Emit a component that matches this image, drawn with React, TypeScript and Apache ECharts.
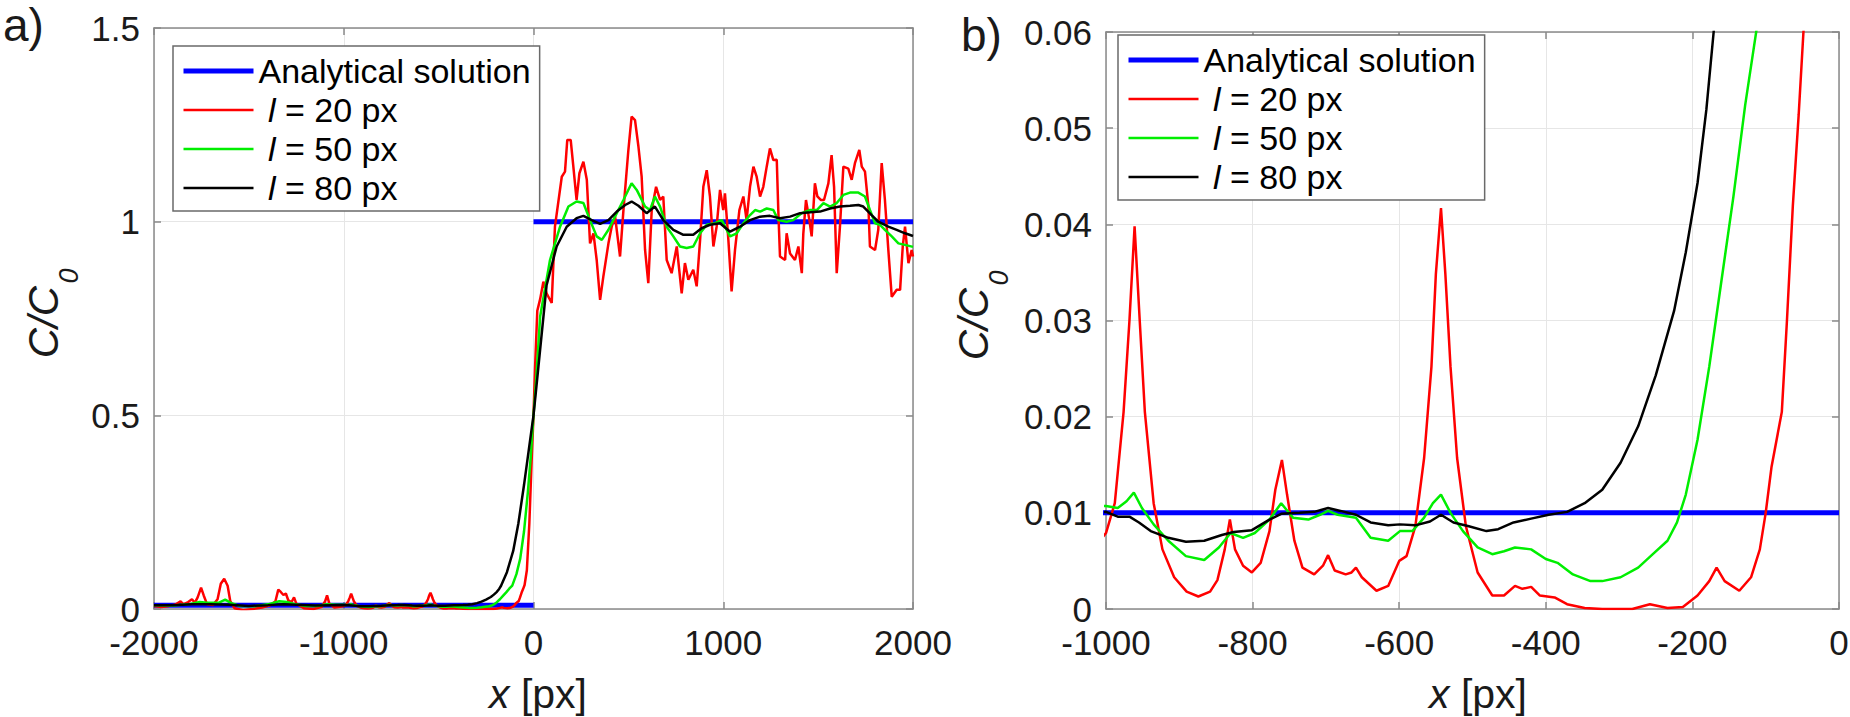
import React, { useEffect, useRef } from 'react';
import * as echarts from 'echarts';

const FONT = '"Liberation Sans", Arial, Helvetica, sans-serif';

// ---------- axis ranges / ticks ----------
const xRangeA = [-2000, 2000];
const xStepA = 1000;
const yRangeA = [0, 1.5];
const yStepA = 0.5;
const xRangeB = [-1000, 0];
const xStepB = 200;
const yRangeB = [0, 0.06];
const yStepB = 0.01;

// ---------- series names ----------
const seriesNames = ['Analytical solution', 'l = 20 px', 'l = 50 px', 'l = 80 px'];

// ---------- data (x [px], C/C0) ----------
const analytical: (number | string)[][] = [
  [-2000, 0.01], [0, 0.01], [0, '-'], [0, 1], [2000, 1],
];

const red20: number[][] = [
  [-2000, 0.008], [-1960, 0.005], [-1920, 0.008], [-1885, 0.012], [-1860, 0.02], [-1845, 0.012],
  [-1820, 0.018], [-1800, 0.025], [-1785, 0.016], [-1770, 0.03], [-1752, 0.055], [-1738, 0.035],
  [-1720, 0.012], [-1690, 0.01], [-1665, 0.025], [-1648, 0.065], [-1630, 0.078], [-1612, 0.06],
  [-1598, 0.02], [-1575, 0.002], [-1530, -0.003], [-1480, 0.0], [-1430, 0.004], [-1385, 0.01],
  [-1360, 0.02], [-1345, 0.05], [-1332, 0.044], [-1318, 0.036], [-1305, 0.04], [-1292, 0.022],
  [-1275, 0.018], [-1262, 0.03], [-1250, 0.014], [-1210, 0.002], [-1160, 0.0], [-1115, 0.006],
  [-1098, 0.02], [-1088, 0.035], [-1076, 0.014], [-1050, 0.004], [-1020, 0.006],
  [-1000, 0.0079], [-988, 0.011], [-976, 0.0205], [-968, 0.03], [-961, 0.0398], [-954, 0.03],
  [-947, 0.0205], [-935, 0.011], [-923, 0.0062], [-907, 0.0033], [-890, 0.0018], [-874, 0.0013],
  [-858, 0.0018], [-848, 0.003], [-838, 0.0062], [-831, 0.0093], [-824, 0.0062], [-813, 0.0045],
  [-801, 0.0038], [-789, 0.0048], [-777, 0.0081], [-769, 0.0124], [-760, 0.0155], [-753, 0.0119],
  [-743, 0.0071], [-732, 0.0043], [-716, 0.0036], [-704, 0.0045], [-697, 0.0056], [-688, 0.004],
  [-673, 0.0036], [-665, 0.0038], [-659, 0.0043], [-651, 0.0033], [-631, 0.0019], [-615, 0.0024],
  [-600, 0.005], [-590, 0.0055], [-578, 0.0086], [-566, 0.0157], [-556, 0.0252], [-550, 0.0348],
  [-543, 0.0417], [-537, 0.0348], [-530, 0.0252], [-521, 0.0157], [-509, 0.0086], [-493, 0.0038],
  [-473, 0.0014], [-457, 0.0014], [-442, 0.0024], [-432, 0.0021], [-420, 0.0023], [-408, 0.0014],
  [-388, 0.0012], [-371, 0.0005], [-347, 0.0001], [-323, 0], [-282, 0], [-258, 0.0005],
  [-234, 0.0001], [-213, 0.0002], [-193, 0.0014], [-177, 0.0029], [-167, 0.0043], [-156, 0.0029],
  [-136, 0.0019], [-120, 0.0033], [-108, 0.0062], [-100, 0.01], [-92, 0.0148], [-78, 0.0205],
  [-71, 0.03], [-63, 0.0419], [-55, 0.0514], [-47, 0.062],
  [-35, 0.1], [-22, 0.22], [-10, 0.38], [0, 0.5], [8, 0.62], [20, 0.77], [35, 0.8],
  [52, 0.845], [69, 0.815], [96, 0.79], [113, 0.987], [149, 1.116], [166, 1.129], [178, 1.211],
  [196, 1.211], [210, 1.142], [227, 1.056], [242, 1.125], [263, 1.155], [281, 1.108], [298, 0.944],
  [316, 0.97], [333, 0.901], [351, 0.798], [368, 0.858], [395, 0.944], [412, 0.987], [430, 1.013],
  [456, 0.91], [474, 1.03], [500, 1.185], [517, 1.271], [535, 1.262], [553, 1.194], [570, 1.116],
  [588, 0.927], [605, 0.841], [623, 1.03], [646, 1.09], [667, 1.056], [684, 1.065], [702, 0.901],
  [728, 0.867], [755, 0.936], [781, 0.815], [798, 0.893], [816, 0.85], [842, 0.876], [860, 0.833],
  [878, 0.953], [895, 1.09], [913, 1.133], [930, 1.065], [948, 0.936], [965, 0.987], [983, 1.082],
  [1000, 1.03], [1009, 1.073], [1027, 0.953], [1044, 0.82], [1062, 0.927], [1085, 1.03],
  [1106, 1.065], [1123, 1.004], [1141, 1.09], [1159, 1.142], [1176, 1.116], [1194, 1.065],
  [1211, 1.09], [1229, 1.142], [1246, 1.189], [1264, 1.159], [1282, 1.16], [1290, 1.03],
  [1299, 0.91], [1326, 0.901], [1334, 0.97], [1352, 0.918], [1378, 0.901], [1396, 0.936],
  [1414, 0.867], [1422, 0.97], [1436, 1.056], [1454, 1.004], [1466, 0.962], [1483, 1.099],
  [1496, 1.065], [1514, 1.056], [1531, 1.056], [1554, 1.099], [1571, 1.172], [1584, 1.09],
  [1598, 0.867], [1615, 0.987], [1633, 1.142], [1659, 1.137], [1677, 1.108], [1694, 1.151],
  [1717, 1.185], [1730, 1.142], [1747, 1.129], [1765, 1.039], [1773, 0.936], [1800, 0.927],
  [1817, 0.979], [1835, 1.151], [1852, 1.056], [1870, 0.927], [1888, 0.806], [1914, 0.824],
  [1932, 0.824], [1946, 0.936], [1958, 0.987], [1976, 0.893], [1993, 0.927], [2000, 0.91],
];

const green50: number[][] = [
  [-2000, 0.01], [-1900, 0.009], [-1820, 0.012], [-1760, 0.018], [-1720, 0.016], [-1660, 0.016],
  [-1625, 0.024], [-1595, 0.016], [-1550, 0.008], [-1470, 0.007], [-1400, 0.012], [-1340, 0.02],
  [-1300, 0.018], [-1260, 0.013], [-1200, 0.008], [-1140, 0.008], [-1090, 0.012], [-1040, 0.011],
  [-1000, 0.0107], [-984, 0.0105], [-972, 0.0112], [-962, 0.0121], [-951, 0.0105], [-935, 0.0088],
  [-915, 0.0071], [-891, 0.0055], [-866, 0.0051], [-846, 0.0064], [-830, 0.0079], [-813, 0.0074],
  [-797, 0.0079], [-777, 0.0093], [-761, 0.011], [-745, 0.0095], [-724, 0.0093], [-708, 0.0098],
  [-697, 0.0102], [-684, 0.0098], [-659, 0.0095], [-639, 0.0074], [-615, 0.0071], [-599, 0.0081],
  [-582, 0.0081], [-566, 0.0095], [-554, 0.011], [-543, 0.0119], [-530, 0.01], [-513, 0.0081],
  [-493, 0.0064], [-473, 0.0057], [-457, 0.006], [-442, 0.0064], [-420, 0.0062], [-400, 0.0052],
  [-384, 0.0048], [-363, 0.0036], [-339, 0.0029], [-323, 0.0029], [-298, 0.0033], [-274, 0.0043],
  [-254, 0.0057], [-234, 0.0071], [-221, 0.009], [-209, 0.0119], [-193, 0.0176], [-177, 0.0252],
  [-161, 0.0338], [-144, 0.0429], [-128, 0.0524], [-112, 0.0605],
  [-90, 0.09], [-70, 0.13], [-50, 0.2], [-30, 0.3], [-15, 0.39], [0, 0.5], [15, 0.6], [35, 0.755],
  [87, 0.901], [140, 0.987], [184, 1.039], [227, 1.052], [263, 1.048], [298, 1.004], [333, 0.962],
  [360, 0.953], [395, 0.979], [439, 1.022], [474, 1.056], [517, 1.099], [544, 1.082], [588, 1.039],
  [614, 1.03], [640, 1.065], [667, 1.039], [702, 0.987], [737, 0.962], [772, 0.936], [807, 0.932],
  [842, 0.936], [878, 0.97], [913, 0.992], [957, 0.996], [992, 1.004], [1036, 0.962], [1071, 0.97],
  [1106, 0.996], [1141, 1.017], [1168, 1.03], [1194, 1.026], [1229, 1.034], [1264, 1.03],
  [1290, 1.004], [1334, 1.0], [1369, 1.004], [1414, 1.022], [1458, 1.03], [1493, 1.03],
  [1528, 1.048], [1563, 1.039], [1598, 1.048], [1633, 1.069], [1668, 1.075], [1712, 1.075],
  [1747, 1.065], [1773, 1.03], [1800, 0.996], [1826, 0.992], [1852, 0.979], [1888, 0.962],
  [1923, 0.944], [1958, 0.94], [2000, 0.935],
];

const black80: number[][] = [
  [-2000, 0.01], [-1900, 0.01], [-1800, 0.012], [-1700, 0.012], [-1600, 0.011], [-1500, 0.008],
  [-1400, 0.01], [-1320, 0.012], [-1250, 0.011], [-1150, 0.009], [-1060, 0.01],
  [-1000, 0.0101], [-984, 0.0096], [-968, 0.0096], [-955, 0.009], [-939, 0.0081], [-915, 0.0074],
  [-891, 0.007], [-866, 0.0071], [-842, 0.0077], [-826, 0.008], [-801, 0.0082], [-777, 0.0093],
  [-761, 0.0099], [-736, 0.01], [-716, 0.0101], [-697, 0.0105], [-680, 0.0102], [-659, 0.0098],
  [-639, 0.009], [-615, 0.0087], [-599, 0.0088], [-578, 0.0087], [-558, 0.0091], [-543, 0.0098],
  [-526, 0.009], [-505, 0.0086], [-481, 0.0081], [-465, 0.0083], [-444, 0.009], [-420, 0.0094],
  [-396, 0.0098], [-371, 0.0101], [-347, 0.011], [-323, 0.0124], [-298, 0.0152], [-274, 0.019],
  [-250, 0.0243], [-225, 0.031], [-209, 0.0371], [-193, 0.0443], [-181, 0.0519], [-171, 0.06],
  [-140, 0.095], [-107, 0.15], [-80, 0.22], [-50, 0.32], [-25, 0.41], [0, 0.5], [26, 0.626],
  [69, 0.836], [122, 0.936], [175, 0.987], [227, 1.009], [263, 1.015], [307, 1.004], [351, 0.994],
  [395, 1.004], [439, 1.026], [483, 1.043], [517, 1.052], [553, 1.041], [596, 1.022], [640, 1.039],
  [684, 1.004], [737, 0.979], [790, 0.966], [842, 0.966], [886, 0.983], [930, 0.992], [983, 0.996],
  [1036, 0.974], [1088, 0.987], [1141, 1.004], [1194, 1.013], [1246, 1.015], [1299, 1.009],
  [1352, 1.013], [1405, 1.022], [1458, 1.024], [1510, 1.026], [1563, 1.034], [1615, 1.039],
  [1668, 1.041], [1712, 1.043], [1738, 1.039], [1782, 1.017], [1817, 1.0], [1870, 0.987],
  [1914, 0.979], [1958, 0.97], [2000, 0.963],
];

// ---------- styling ----------
const COLORS = ['#0000ff', '#ff0000', '#00ee00', '#000000'];
const WIDTHS = [5, 2.5, 2.5, 2.5];
const AXIS_COLOR = '#8a8a8a';
const GRID_COLOR = '#e6e6e6';
const TEXT_COLOR = '#1a1a1a';

const labelStyle = { color: TEXT_COLOR, fontSize: 35, fontFamily: FONT, lineHeight: 26 };

function makeX(gridIndex: number, range: number[], step: number, pos: 'bottom' | 'top') {
  const main = pos === 'bottom';
  return {
    type: 'value',
    gridIndex,
    position: pos,
    min: range[0],
    max: range[1],
    interval: step,
    axisLine: { show: true, onZero: false, lineStyle: { color: AXIS_COLOR, width: 1.5 } },
    axisTick: { show: true, inside: true, length: 7, lineStyle: { color: AXIS_COLOR, width: 1.5 } },
    axisLabel: main
      ? {
          ...labelStyle,
          margin: 20,
          showMinLabel: true,
          showMaxLabel: true,
          hideOverlap: false,
          formatter: (v: number) => String(v),
        }
      : { show: false },
    splitLine: main ? { show: true, lineStyle: { color: GRID_COLOR, width: 1 } } : { show: false },
  };
}

function makeY(gridIndex: number, range: number[], step: number, pos: 'left' | 'right', fmt: (v: number) => string) {
  const main = pos === 'left';
  return {
    type: 'value',
    gridIndex,
    position: pos,
    min: range[0],
    max: range[1],
    interval: step,
    axisLine: { show: true, onZero: false, lineStyle: { color: AXIS_COLOR, width: 1.5 } },
    axisTick: { show: true, inside: true, length: 7, lineStyle: { color: AXIS_COLOR, width: 1.5 } },
    axisLabel: main
      ? { ...labelStyle, margin: 14, showMinLabel: true, showMaxLabel: true, formatter: fmt }
      : { show: false },
    splitLine: main ? { show: true, lineStyle: { color: GRID_COLOR, width: 1 } } : { show: false },
  };
}

const allData = [analytical, red20, green50, black80];

function makeSeries(axisIndex: number) {
  return allData.map((d, i) => ({
    type: 'line',
    name: seriesNames[i],
    data: d,
    xAxisIndex: axisIndex,
    yAxisIndex: axisIndex,
    showSymbol: false,
    symbol: 'none',
    clip: true,
    silent: true,
    connectNulls: false,
    lineStyle: { color: COLORS[i], width: WIDTHS[i] },
    itemStyle: { color: COLORS[i] },
    z: 2 + i,
  }));
}

function makeLegend(left: number, top: number) {
  return {
    orient: 'vertical',
    left,
    top,
    itemWidth: 70,
    itemHeight: 14,
    itemGap: 3,
    padding: [7, 9, 5, 8],
    backgroundColor: '#ffffff',
    borderColor: '#6a6a6a',
    borderWidth: 1.5,
    borderRadius: 0,
    selectedMode: false,
    data: seriesNames.map((n, i) => ({
      name: n,
      lineStyle: { color: COLORS[i], width: WIDTHS[i] },
      itemStyle: { color: 'rgba(0,0,0,0)', borderWidth: 0, opacity: 0 },
    })),
    formatter: (name: string) => (name.startsWith('l ') ? ' {i|l}' + name.slice(1) : name),
    textStyle: {
      color: '#000',
      fontSize: 34,
      fontFamily: FONT,
      lineHeight: 36,
      rich: {
        i: { fontStyle: 'italic', fontSize: 34, fontFamily: FONT, lineHeight: 36, color: '#000' },
      },
    },
  };
}

function txt(x: number, y: number, text: string, size: number, italic: boolean, rot = 0, rich?: any, align = 'center') {
  return {
    type: 'text',
    x,
    y,
    rotation: rot,
    silent: true,
    style: {
      text,
      fill: TEXT_COLOR,
      fontSize: size,
      fontFamily: FONT,
      fontStyle: italic ? 'italic' : 'normal',
      textAlign: align,
      align,
      textVerticalAlign: 'middle',
      verticalAlign: 'middle',
      rich,
    },
  };
}

const xRich = { i: { fontStyle: 'italic', fontSize: 41, fontFamily: FONT, fill: TEXT_COLOR } };

const option = {
  animation: false,
  backgroundColor: '#ffffff',
  grid: [
    { left: 154, top: 28, width: 759, height: 581, outerBoundsMode: 'none', containLabel: false },
    { left: 1106, top: 32, width: 733, height: 577, outerBoundsMode: 'none', containLabel: false },
  ],
  xAxis: [
    makeX(0, xRangeA, xStepA, 'bottom'),
    makeX(0, xRangeA, xStepA, 'top'),
    makeX(1, xRangeB, xStepB, 'bottom'),
    makeX(1, xRangeB, xStepB, 'top'),
  ],
  yAxis: [
    makeY(0, yRangeA, yStepA, 'left', (v: number) => String(+v.toFixed(1))),
    makeY(0, yRangeA, yStepA, 'right', (v: number) => String(v)),
    makeY(1, yRangeB, yStepB, 'left', (v: number) => (v === 0 ? '0' : v.toFixed(2))),
    makeY(1, yRangeB, yStepB, 'right', (v: number) => String(v)),
  ],
  legend: [makeLegend(173, 46), makeLegend(1118, 35)],
  series: [...makeSeries(0), ...makeSeries(2)],
  graphic: [
    txt(3, 25, 'a)', 46, false, 0, undefined, 'left'),
    txt(961, 35, 'b)', 46, false, 0, undefined, 'left'),
    txt(43, 322, 'C/C', 42, true, Math.PI / 2),
    txt(69, 276, '0', 27, true, Math.PI / 2),
    txt(973, 324, 'C/C', 42, true, Math.PI / 2),
    txt(999, 278, '0', 27, true, Math.PI / 2),
    txt(538, 694, '{i|x} [px]', 41, false, 0, xRich),
    txt(1478, 694, '{i|x} [px]', 41, false, 0, xRich),
  ],
};

export default function App() {
  const ref = useRef<HTMLDivElement>(null);
  useEffect(() => {
    const chart = echarts.init(ref.current!, null, { renderer: 'svg' });
    chart.setOption(option as any);
    return () => chart.dispose();
  }, []);
  return (
    <div
      ref={ref}
      style={{ position: 'fixed', left: 0, top: 0, width: 1850, height: 717, background: '#ffffff' }}
    />
  );
}
